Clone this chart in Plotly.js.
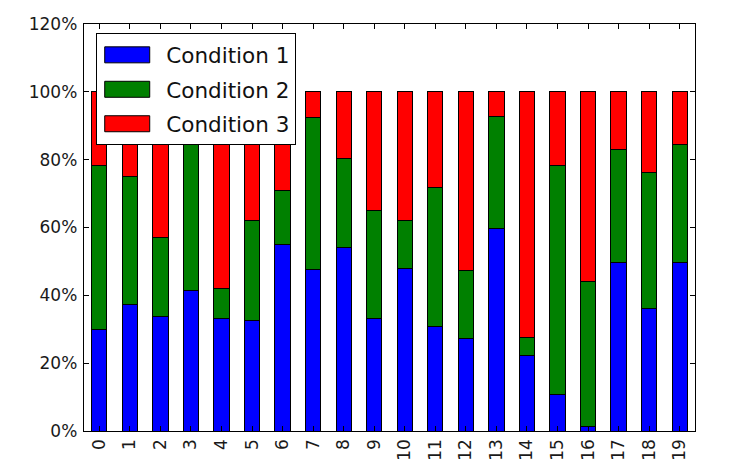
<!DOCTYPE html>
<html>
<head>
<meta charset="utf-8">
<script src="https://cdn.plot.ly/plotly-3.0.1.min.js"></script>
<style>
html,body{margin:0;padding:0;background:#fff;}
#chart{width:748px;height:473px;}
</style>
</head>
<body>
<div id="chart"></div>
<script>
const categories = ["0","1","2","3","4","5","6","7","8","9","10","11","12","13","14","15","16","17","18","19"];
const seriesNames = ["Condition 1","Condition 2","Condition 3"];
const condition1 = [30.0, 37.4, 33.8, 41.3, 33.3, 32.7, 54.9, 47.5, 54.1, 33.1, 47.9, 30.8, 27.3, 59.8, 22.2, 10.7, 1.4, 49.6, 36.2, 49.6];
const condition2 = [48.4, 37.5, 23.2, 46.7, 8.7, 29.4, 16.1, 44.8, 26.2, 32.0, 14.2, 40.9, 20.1, 32.8, 5.4, 67.7, 42.8, 33.4, 39.9, 34.9];
const condition3 = [21.6, 25.1, 43.0, 12.0, 58.0, 37.9, 29.0, 7.7, 19.7, 34.9, 37.9, 28.3, 52.6, 7.4, 72.4, 21.6, 55.8, 17.0, 23.9, 15.5];
const yTickVals = [0, 20, 40, 60, 80, 100, 120];
const yTickText = ["0%","20%","40%","60%","80%","100%","120%"];

const colors = ["#0000ff", "#008000", "#ff0000"];
const seriesValues = [condition1, condition2, condition3];

const traces = seriesValues.map((vals, i) => ({
  type: "bar",
  name: seriesNames[i],
  x: categories,
  y: vals,
  width: 0.5,
  legendgroup: "g" + i,
  marker: {color: colors[i], line: {color: "#000", width: 1}},
  hoverinfo: "skip"
}));

const axisCommon = {
  showgrid: false,
  zeroline: false,
  showline: true,
  linecolor: "#000",
  linewidth: 1.3,
  mirror: "allticks",
  ticks: "inside",
  ticklen: 5,
  tickwidth: 1,
  tickcolor: "#000",
  automargin: false,
  tickfont: {family: "DejaVu Sans", size: 17, color: "#1a1a1a"}
};

const layout = {
  width: 748,
  height: 473,
  margin: {l: 84, r: 53, t: 24, b: 42},
  paper_bgcolor: "#fff",
  plot_bgcolor: "#fff",
  barmode: "stack",
  showlegend: true,
  legend: {
    x: 0.02, y: 0.977, xanchor: "left", yanchor: "top",
    bgcolor: "#fff", bordercolor: "#000", borderwidth: 1,
    font: {family: "DejaVu Sans", size: 21.5, color: "#111"},
    traceorder: "grouped",
    tracegroupgap: 3.5,
    itemwidth: 59
  },
  xaxis: Object.assign({}, axisCommon, {
    type: "category",
    range: [-0.5, 19.5],
    tickangle: -90
  }),
  yaxis: Object.assign({}, axisCommon, {
    range: [0, 120],
    tickvals: yTickVals,
    ticktext: yTickText,
    ticklabelstandoff: 2
  })
};

Plotly.newPlot("chart", traces, layout, {staticPlot: true}).then(gd => {
  // widen legend swatches to matplotlib-style rectangles
  gd.querySelectorAll(".legend .legendpoints path").forEach(p => {
    p.setAttribute("d", "M-27,-8H18V8H-27Z");
    p.style.stroke = "#000";
    p.style.strokeWidth = "1px";
  });
});
</script>
</body>
</html>
